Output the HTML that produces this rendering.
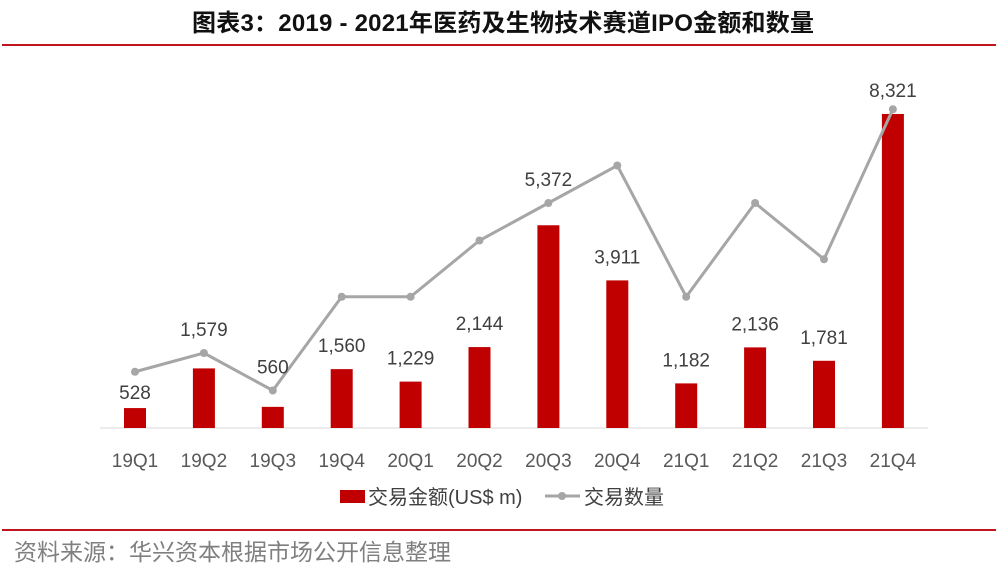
<!DOCTYPE html>
<html><head><meta charset="utf-8"><style>
body{margin:0;background:#fff;width:1000px;height:581px;overflow:hidden}
svg{display:block;font-family:"Liberation Sans","Noto Sans CJK SC",sans-serif}
</style></head><body>
<svg id="c" width="1000" height="581">
<text x="503" y="31" text-anchor="middle" font-size="24" font-weight="bold" fill="#111" textLength="622">图表3：2019 - 2021年医药及生物技术赛道IPO金额和数量</text>
<line x1="2" y1="45" x2="996" y2="45" stroke="#c0151d" stroke-width="2"/>
<line x1="100" y1="428" x2="928" y2="428" stroke="#d9d9d9" stroke-width="1"/>
<g id="bars"></g><g id="line"></g><g id="labels"></g><g id="xt"></g>
<rect x="340" y="490" width="25" height="13" fill="#c00000"/>
<text x="368" y="504" font-size="20" fill="#404040">交易金额(US$ m)</text>
<line x1="545" y1="496" x2="580" y2="496" stroke="#a6a6a6" stroke-width="3"/>
<circle cx="562" cy="496" r="4" fill="#a6a6a6"/>
<text x="584" y="504" font-size="20" fill="#404040">交易数量</text>
<line x1="2" y1="530" x2="996" y2="530" stroke="#c0151d" stroke-width="2"/>
<text x="14" y="560" font-size="23" fill="#7f7f7f">资料来源：华兴资本根据市场公开信息整理</text>
</svg>
<script>
const categories=["19Q1","19Q2","19Q3","19Q4","20Q1","20Q2","20Q3","20Q4","21Q1","21Q2","21Q3","21Q4"];
const amounts=[528,1579,560,1560,1229,2144,5372,3911,1182,2136,1781,8321];
const counts=[3,4,2,7,7,10,12,14,7,12,9,17];
const amountLabels=["528","1,579","560","1,560","1,229","2,144","5,372","3,911","1,182","2,136","1,781","8,321"];
const NS="http://www.w3.org/2000/svg";
const x=i=>135+i*68.9;
const yA=v=>428-v*0.03774;
const yC=v=>428-v*18.75;
function mk(t,a,p){const e=document.createElementNS(NS,t);for(const k in a)e.setAttribute(k,a[k]);document.getElementById(p).appendChild(e);return e;}
amounts.forEach((v,i)=>{
 const r=mk("rect",{x:x(i)-11,y:yA(v),width:22,height:428-yA(v),fill:"#c00000"},"bars");
 
 
});
const pl=mk("polyline",{points:counts.map((c,i)=>x(i)+","+yC(c)).join(" "),fill:"none",stroke:"#a6a6a6","stroke-width":3},"line");


counts.forEach((c,i)=>{
 const d=mk("circle",{cx:x(i),cy:yC(c),r:4,fill:"#a6a6a6"},"line");
 
 
});
amounts.forEach((v,i)=>{
 let ly=yA(v)-24;const lc=yC(counts[i]);
 if(Math.abs(ly-lc)<18) ly=(lc<yA(v)-10&&yA(v)-lc>30)?yA(v)-16:lc-24;
 const t=mk("text",{x:x(i),y:ly+7,"text-anchor":"middle","font-size":19,fill:"#404040"},"labels");
 t.textContent=amountLabels[i];
 
 
 const xt=mk("text",{x:x(i),y:467,"text-anchor":"middle","font-size":19,fill:"#595959"},"xt");
 xt.textContent=categories[i];
 
 
});
</script>
</body></html>
